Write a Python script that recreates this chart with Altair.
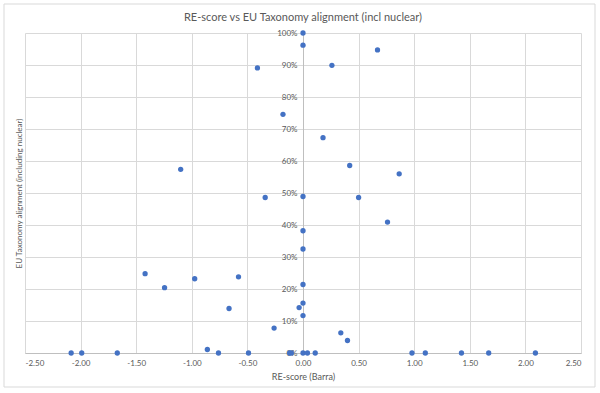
import altair as alt
import pandas as pd

re_score = [0.00, 0.00, -0.41, -0.18, -1.10, -0.34, 0.00, 0.67, 0.26, 0.18,
            0.42, 0.865, 0.50, 0.76, 0.00, 0.00, 0.00, 0.00, -0.035, 0.00,
            0.34, 0.40, -1.42, -1.245, -0.974, -0.58, -0.665, -0.26, -0.86,
            -2.085, -1.99, -1.67, -0.76, -0.49, -0.12, -0.105, 0.00, 0.04, 0.11,
            0.98, 1.10, 1.425, 1.67, 2.09]
eu_alignment = [1.00, 0.962, 0.891, 0.746, 0.574, 0.486, 0.489, 0.947, 0.899, 0.673,
                0.586, 0.560, 0.486, 0.409, 0.382, 0.325, 0.214, 0.156, 0.142, 0.117,
                0.063, 0.039, 0.248, 0.204, 0.232, 0.238, 0.139, 0.078, 0.011,
                0.0, 0.0, 0.0, 0.0, 0.0, 0.0, 0.0, 0.0, 0.0, 0.0,
                0.0, 0.0, 0.0, 0.0, 0.0]
x_ticks = [-2.5, -2.0, -1.5, -1.0, -0.5, 0.0, 0.5, 1.0, 1.5, 2.0, 2.5]
y_ticks = [0.0, 0.1, 0.2, 0.3, 0.4, 0.5, 0.6, 0.7, 0.8, 0.9, 1.0]

df = pd.DataFrame({"x": re_score, "y": eu_alignment})

FONT = "Lato"
TXT = "#595959"
GRID = "#d9d9d9"

points = alt.Chart(df).mark_circle(size=28, color="#4472C4", opacity=1).encode(
    x=alt.X("x:Q",
            scale=alt.Scale(domain=[-2.5, 2.5], nice=False, zero=False),
            axis=alt.Axis(values=x_ticks,
                          labelExpr="(datum.value < 0 ? '-' : '') + format(abs(datum.value), '.2f')",
                          title="RE-score (Barra)", ticks=False, grid=True,
                          gridColor=GRID, domainColor="#bfbfbf",
                          labelFontSize=8, labelColor=TXT, labelFont=FONT,
                          labelPadding=6, titlePadding=5,
                          titleFontSize=9, titleFont=FONT, titleColor=TXT,
                          titleFontWeight="normal", zindex=0)),
    y=alt.Y("y:Q",
            scale=alt.Scale(domain=[0, 1], nice=False),
            axis=alt.Axis(values=y_ticks, format=".0%", offset=-278,
                          title="EU Taxonomy alignment (including nuclear)",
                          titleX=-284, titleY=160, titleAngle=-90,
                          titleBaseline="middle", titleAlign="center",
                          ticks=False, grid=True, gridColor=GRID,
                          domainColor="#bfbfbf",
                          labelFontSize=8, labelColor=TXT, labelFont=FONT,
                          labelPadding=6,
                          titleFontSize=8, titleFont=FONT, titleColor=TXT,
                          titleFontWeight="normal", zindex=0)),
)

frame = alt.Chart(pd.DataFrame({"a": [0]})).mark_rect(
    fill=None, stroke="#d9d9d9", strokeWidth=1
).encode(x=alt.value(-21), x2=alt.value(570), y=alt.value(-29), y2=alt.value(354))

chart = alt.layer(frame, points).properties(
    width=556, height=320,
    title=alt.TitleParams("RE-score vs EU Taxonomy alignment (incl nuclear)",
                          fontSize=11, font=FONT, color=TXT, fontWeight="normal",
                          anchor="middle", frame="group", offset=-19.5),
    padding={"left": 25, "top": 33, "right": 19, "bottom": 40},
    autosize=alt.AutoSizeParams(type="none"),
    background="white",
).configure_view(stroke=None)

chart.save("out.html", embed_options={"renderer": "svg", "actions": False})
